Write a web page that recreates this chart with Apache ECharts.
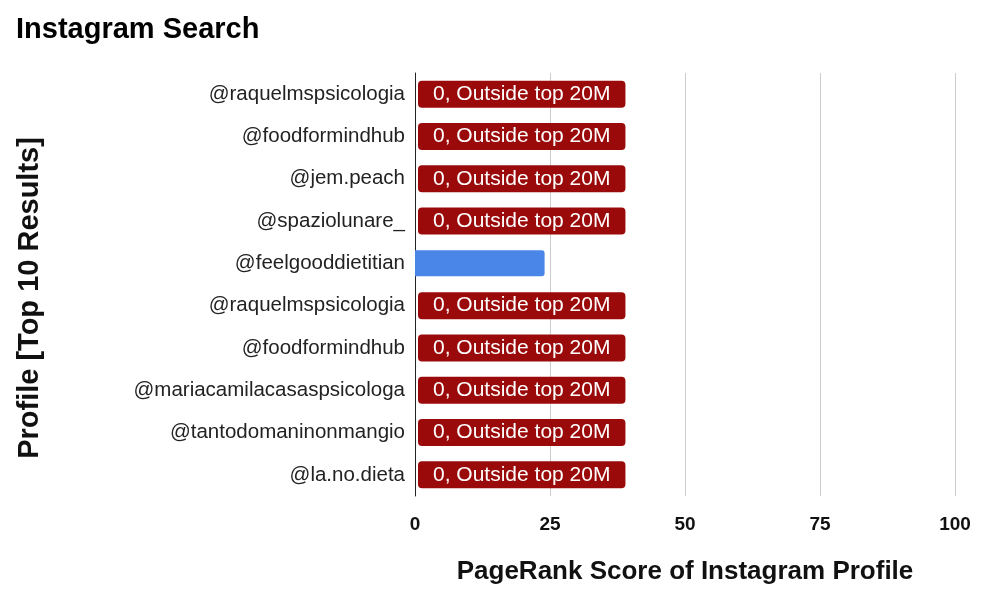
<!DOCTYPE html>
<html>
<head>
<meta charset="utf-8">
<script src="https://cdn.jsdelivr.net/npm/echarts@6/dist/echarts.min.js"></script>
<style>
  html, body { margin: 0; padding: 0; background: #fff; }
  #main { width: 1000px; height: 603px; }
</style>
</head>
<body>
<div id="main"></div>
<script>
// profiles, top to bottom (trailing space keeps repeated names distinct)
var profiles = ['@raquelmspsicologia', '@foodformindhub', '@jem.peach', '@spaziolunare_',
    '@feelgooddietitian', '@raquelmspsicologia ', '@foodformindhub ', '@mariacamilacasaspsicologa',
    '@tantodomaninonmangio', '@la.no.dieta'];
var scores = [0, 0, 0, 0, 24, 0, 0, 0, 0, 0];
var notes = ['0, Outside top 20M', '0, Outside top 20M', '0, Outside top 20M', '0, Outside top 20M', '',
    '0, Outside top 20M', '0, Outside top 20M', '0, Outside top 20M', '0, Outside top 20M', '0, Outside top 20M'];
var xTicks = [0, 25, 50, 75, 100];

var font = 'Arial, "Liberation Sans", sans-serif';

var data = [];
for (var i = 0; i < scores.length; i++) {
    var item = { value: scores[i] };
    if (notes[i]) {
        item.label = {
            show: true,
            position: 'right',
            distance: 3,
            formatter: notes[i],
            color: '#fff',
            fontSize: 21,
            fontFamily: font,
            backgroundColor: '#9b0a0a',
            borderRadius: 4,
            padding: [4, 15, 2, 15]
        };
    }
    data.push(item);
}

var myChart = echarts.init(document.getElementById('main'));
myChart.setOption({
    backgroundColor: '#fff',
    title: {
        text: 'Instagram Search',
        left: 16,
        top: 15,
        padding: 0,
        textStyle: { fontSize: 29, fontWeight: 'bold', color: '#000', fontFamily: font }
    },
    // y axis title placed by hand so it sits where the reference has it
    graphic: [{
        type: 'text',
        x: 30,
        y: 298,
        rotation: Math.PI / 2,
        style: {
            text: 'Profile [Top 10 Results]',
            fontSize: 29,
            fontWeight: 'bold',
            fontFamily: font,
            fill: '#111',
            align: 'center',
            verticalAlign: 'middle'
        }
    }],
    grid: { left: 415, right: 45, top: 73, bottom: 107, containLabel: false },
    xAxis: {
        type: 'value',
        min: xTicks[0],
        max: xTicks[xTicks.length - 1],
        interval: 25,
        name: 'PageRank Score of Instagram Profile',
        nameLocation: 'middle',
        nameGap: 63,
        nameTextStyle: { fontSize: 26, fontWeight: 'bold', color: '#111', fontFamily: font },
        axisLine: { show: false },
        axisTick: { show: false },
        axisLabel: { fontSize: 19, fontWeight: 'bold', color: '#111', fontFamily: font, margin: 19 },
        splitLine: { show: true, lineStyle: { color: '#cccccc', width: 1 } }
    },
    yAxis: {
        type: 'category',
        inverse: true,
        data: profiles,
        axisLine: { show: true, lineStyle: { color: '#222', width: 1 } },
        axisTick: { show: false },
        axisLabel: {
            fontSize: 20.5, color: '#222', fontFamily: font, margin: 10,
            formatter: function (v) { return v.trim(); }
        }
    },
    series: [{
        type: 'bar',
        data: data,
        barWidth: 26,
        itemStyle: { color: '#4a86e8', borderRadius: [0, 3, 3, 0] },
        animation: false
    }]
});
</script>
</body>
</html>
